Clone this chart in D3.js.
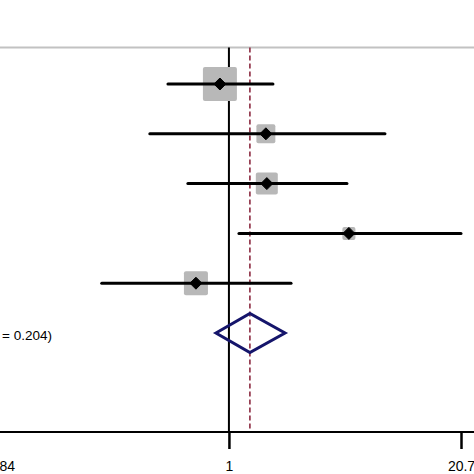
<!DOCTYPE html>
<html><head><meta charset="utf-8">
<script src="https://cdn.jsdelivr.net/npm/d3@7"></script>
<style>html,body{margin:0;padding:0;background:#fff;overflow:hidden}</style>
</head><body>
<svg id="c" width="474" height="474"></svg>
<script>
const studies = ["Study 1","Study 2","Study 3","Study 4","Study 5"];
const estimate = [0.889, 1.62, 1.64, 4.79, 0.650];
const lower    = [0.451, 0.356, 0.585, 1.14, 0.190];
const upper    = [1.777, 7.67, 4.67, 20.7, 2.25];
const weight   = [42.1, 13.1, 17.6, 6.2, 21.0];
const overallEst = 1.315, overallLo = 0.844, overallHi = 2.08;
const overallLabel = "= 0.204)";
const tickValues = [0.0484, 1, 20.7];
const tickLabels = [".0484", "1", "20.7"];

const svg = d3.select("#c");
const x = d3.scaleLog().domain([0.0484, 20.7]).range([-3, 461]);
const rows = studies.concat(["Overall"]);
const y = d3.scalePoint().domain(rows).range([84, 333]);
const box = d3.scaleSqrt().domain([0, 42.1]).range([0, 34]);
const topY = 47.5, axisY = 432;
const FONT = "Arial, 'Liberation Sans', sans-serif";

// top rule
svg.append("line").attr("x1",0).attr("x2",474).attr("y1",topY).attr("y2",topY)
  .attr("stroke","#c2c2c2").attr("stroke-width",2);

// null line
svg.append("line").attr("x1",x(1)).attr("x2",x(1)).attr("y1",topY).attr("y2",axisY)
  .attr("stroke","#000").attr("stroke-width",2);

// overall dashed line
svg.append("line").attr("x1",x(overallEst)).attr("x2",x(overallEst)).attr("y1",topY).attr("y2",axisY)
  .attr("stroke","#8c2a40").attr("stroke-width",1.6).attr("stroke-dasharray","5,3");

// boxes
const g = svg.append("g");
studies.forEach((s,i)=>{
  const side = box(weight[i]);
  g.append("rect").attr("x", x(estimate[i]) - side/2).attr("y", y(s) - side/2)
    .attr("width", side).attr("height", side).attr("rx", 2)
    .attr("fill","#b8b8b8");
});
studies.forEach((s,i)=>{
  g.append("line").attr("x1", x(lower[i])).attr("x2", x(upper[i]))
    .attr("y1", y(s)).attr("y2", y(s)).attr("stroke","#000").attr("stroke-width",3)
    .attr("stroke-linecap","round");
  const cx = x(estimate[i]), cy = y(s), r = 6;
  g.append("path").attr("d", `M${cx-r},${cy}L${cx},${cy-r}L${cx+r},${cy}L${cx},${cy+r}Z`)
    .attr("fill","#000").attr("stroke","#000").attr("stroke-width",1).attr("stroke-linejoin","round");
});

// overall diamond
const oy = y("Overall"), oh = 19.5;
svg.append("path")
  .attr("d", `M${x(overallLo)},${oy}L${x(overallEst)},${oy-oh}L${x(overallHi)},${oy}L${x(overallEst)},${oy+oh}Z`)
  .attr("fill","none").attr("stroke","#15156b").attr("stroke-width",3).attr("stroke-linejoin","miter");

svg.append("text").attr("x", 52).attr("y", oy + 7).attr("text-anchor","end")
  .attr("font-family",FONT).attr("font-size",13.5)
  .attr("fill","#000").text(overallLabel);

// axis
const axis = d3.axisBottom(x).tickValues(tickValues).tickFormat((d,i)=>tickLabels[i]).tickSize(17).tickPadding(2);
const ag = svg.append("g").attr("transform",`translate(0,${axisY})`).call(axis);
ag.select(".domain").remove();
ag.append("line").attr("x1",0).attr("x2",474).attr("stroke","#000").attr("stroke-width",2);
ag.selectAll(".tick line").attr("stroke","#000").attr("stroke-width",2.5);
ag.selectAll(".tick text").attr("font-family",FONT)
  .attr("font-size",14).attr("fill","#000").attr("y",39).attr("dy",0);
</script>
</body></html>
